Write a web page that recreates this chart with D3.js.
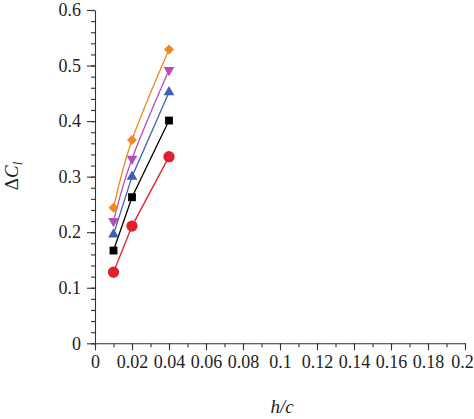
<!DOCTYPE html>
<html>
<head>
<meta charset="utf-8">
<script src="https://cdn.jsdelivr.net/npm/d3@7"></script>
<style>
  body { margin: 0; background: #fff; }
</style>
</head>
<body>
<script>
// h/c values where the points sit
var hc = [0.01, 0.02, 0.04];

// delta Cl for each curve
var redVals     = [0.128, 0.211, 0.336];
var blackVals   = [0.167, 0.263, 0.401];
var blueVals    = [0.196, 0.300, 0.452];
var magentaVals = [0.220, 0.332, 0.492];
var orangeVals  = [0.244, 0.366, 0.529];

var xTicks = [0, 0.02, 0.04, 0.06, 0.08, 0.1, 0.12, 0.14, 0.16, 0.18, 0.2];
var xTickLabels = ["0", "0.02", "0.04", "0.06", "0.08", "0.1", "0.12", "0.14", "0.16", "0.18", "0.2"];
var yTicks = [0, 0.1, 0.2, 0.3, 0.4, 0.5, 0.6];
var yTickLabels = ["0", "0.1", "0.2", "0.3", "0.4", "0.5", "0.6"];

var FONT = "'Liberation Serif', 'Times New Roman', Times, serif";
var W = 474, H = 419;
var svg = d3.select("body").append("svg").attr("width", W).attr("height", H);

var x = d3.scaleLinear().domain([0, 0.2]).range([95, 465]);
var y = d3.scaleLinear().domain([0, 0.6]).range([343.3, 10]);

// minor ticks first (shorter), then major axis with labels
var xMinor = d3.range(0, 0.2001, 0.01).map(function(d){ return +d.toFixed(2); });
var yMinor = d3.range(0, 0.6001, 0.02).map(function(d){ return +d.toFixed(2); });

svg.append("g")
    .attr("transform", "translate(0," + y(0) + ")")
    .call(d3.axisBottom(x).tickValues(xMinor).tickSize(4).tickFormat(""))
    .call(function(g){ g.select(".domain").remove(); });

svg.append("g")
    .attr("transform", "translate(" + x(0) + ",0)")
    .call(d3.axisLeft(y).tickValues(yMinor).tickSize(4).tickFormat(""))
    .call(function(g){ g.select(".domain").remove(); });

var xAxis = svg.append("g")
    .attr("transform", "translate(0," + y(0) + ")")
    .call(d3.axisBottom(x).tickValues(xTicks).tickSizeInner(7).tickSizeOuter(0)
        .tickFormat(function(d, i){ return xTickLabels[i]; }));

var yAxis = svg.append("g")
    .attr("transform", "translate(" + x(0) + ",0)")
    .call(d3.axisLeft(y).tickValues(yTicks).tickSizeInner(8).tickSizeOuter(0)
        .tickFormat(function(d, i){ return yTickLabels[i]; }));

svg.selectAll("g").attr("font-family", FONT);
svg.selectAll(".tick line, .domain").attr("stroke", "#333").attr("stroke-width", 1.1);
xAxis.selectAll("text").attr("font-size", 18).attr("dy", "0.95em").attr("y", 8);
// last label sits on the right edge, nudge it in a bit
xAxis.selectAll("text").filter(function(d){ return d === 0.2; }).attr("dx", -3);
yAxis.selectAll("text").attr("font-size", 18).attr("x", -14);
svg.selectAll(".tick text").attr("font-family", FONT).attr("fill", "#222");

// axis titles
svg.append("text")
    .attr("x", (x(0) + x(0.2)) / 2 + 2)
    .attr("y", 413)
    .attr("text-anchor", "middle")
    .attr("font-family", FONT)
    .attr("font-size", 19)
    .attr("font-style", "italic")
    .attr("fill", "#222")
    .text("h/c");

var yt = svg.append("text")
    .attr("transform", "translate(18,176) rotate(-90)")
    .attr("text-anchor", "middle")
    .attr("font-family", FONT)
    .attr("fill", "#222")
    .attr("font-size", 19);
yt.append("tspan").text("\u0394");
yt.append("tspan").attr("font-style", "italic").text("C");
yt.append("tspan").attr("font-style", "italic").attr("font-size", 13).attr("dy", 4).text("l");

var series = [
  { vals: redVals,     color: "#e0202c", sym: d3.symbolCircle,   size: 100, rot: 0,   curve: d3.curveLinear },
  { vals: blackVals,   color: "#000000", sym: d3.symbolSquare,   size: 62,  rot: 0,   curve: d3.curveLinear },
  { vals: blueVals,    color: "#3f5fb0", sym: d3.symbolTriangle, size: 50,  rot: 0,   curve: d3.curveLinear },
  { vals: magentaVals, color: "#b64db8", sym: d3.symbolTriangle, size: 50,  rot: 180, curve: d3.curveNatural },
  { vals: orangeVals,  color: "#f5871f", sym: d3.symbolSquare,   size: 50,  rot: 45,  curve: d3.curveNatural }
];

series.forEach(function(s){
  var pts = hc.map(function(h, i){ return [h, s.vals[i]]; });
  var line = d3.line()
      .x(function(d){ return x(d[0]); })
      .y(function(d){ return y(d[1]); })
      .curve(s.curve);
  svg.append("path")
      .datum(pts)
      .attr("d", line)
      .attr("fill", "none")
      .attr("stroke", s.color)
      .attr("stroke-width", 1.3);
  svg.selectAll(null)
      .data(pts)
      .enter()
      .append("path")
      .attr("d", d3.symbol().type(s.sym).size(s.size))
      .attr("transform", function(d){
        return "translate(" + x(d[0]) + "," + y(d[1]) + ") rotate(" + s.rot + ")";
      })
      .attr("fill", s.color);
});
</script>
</body>
</html>
